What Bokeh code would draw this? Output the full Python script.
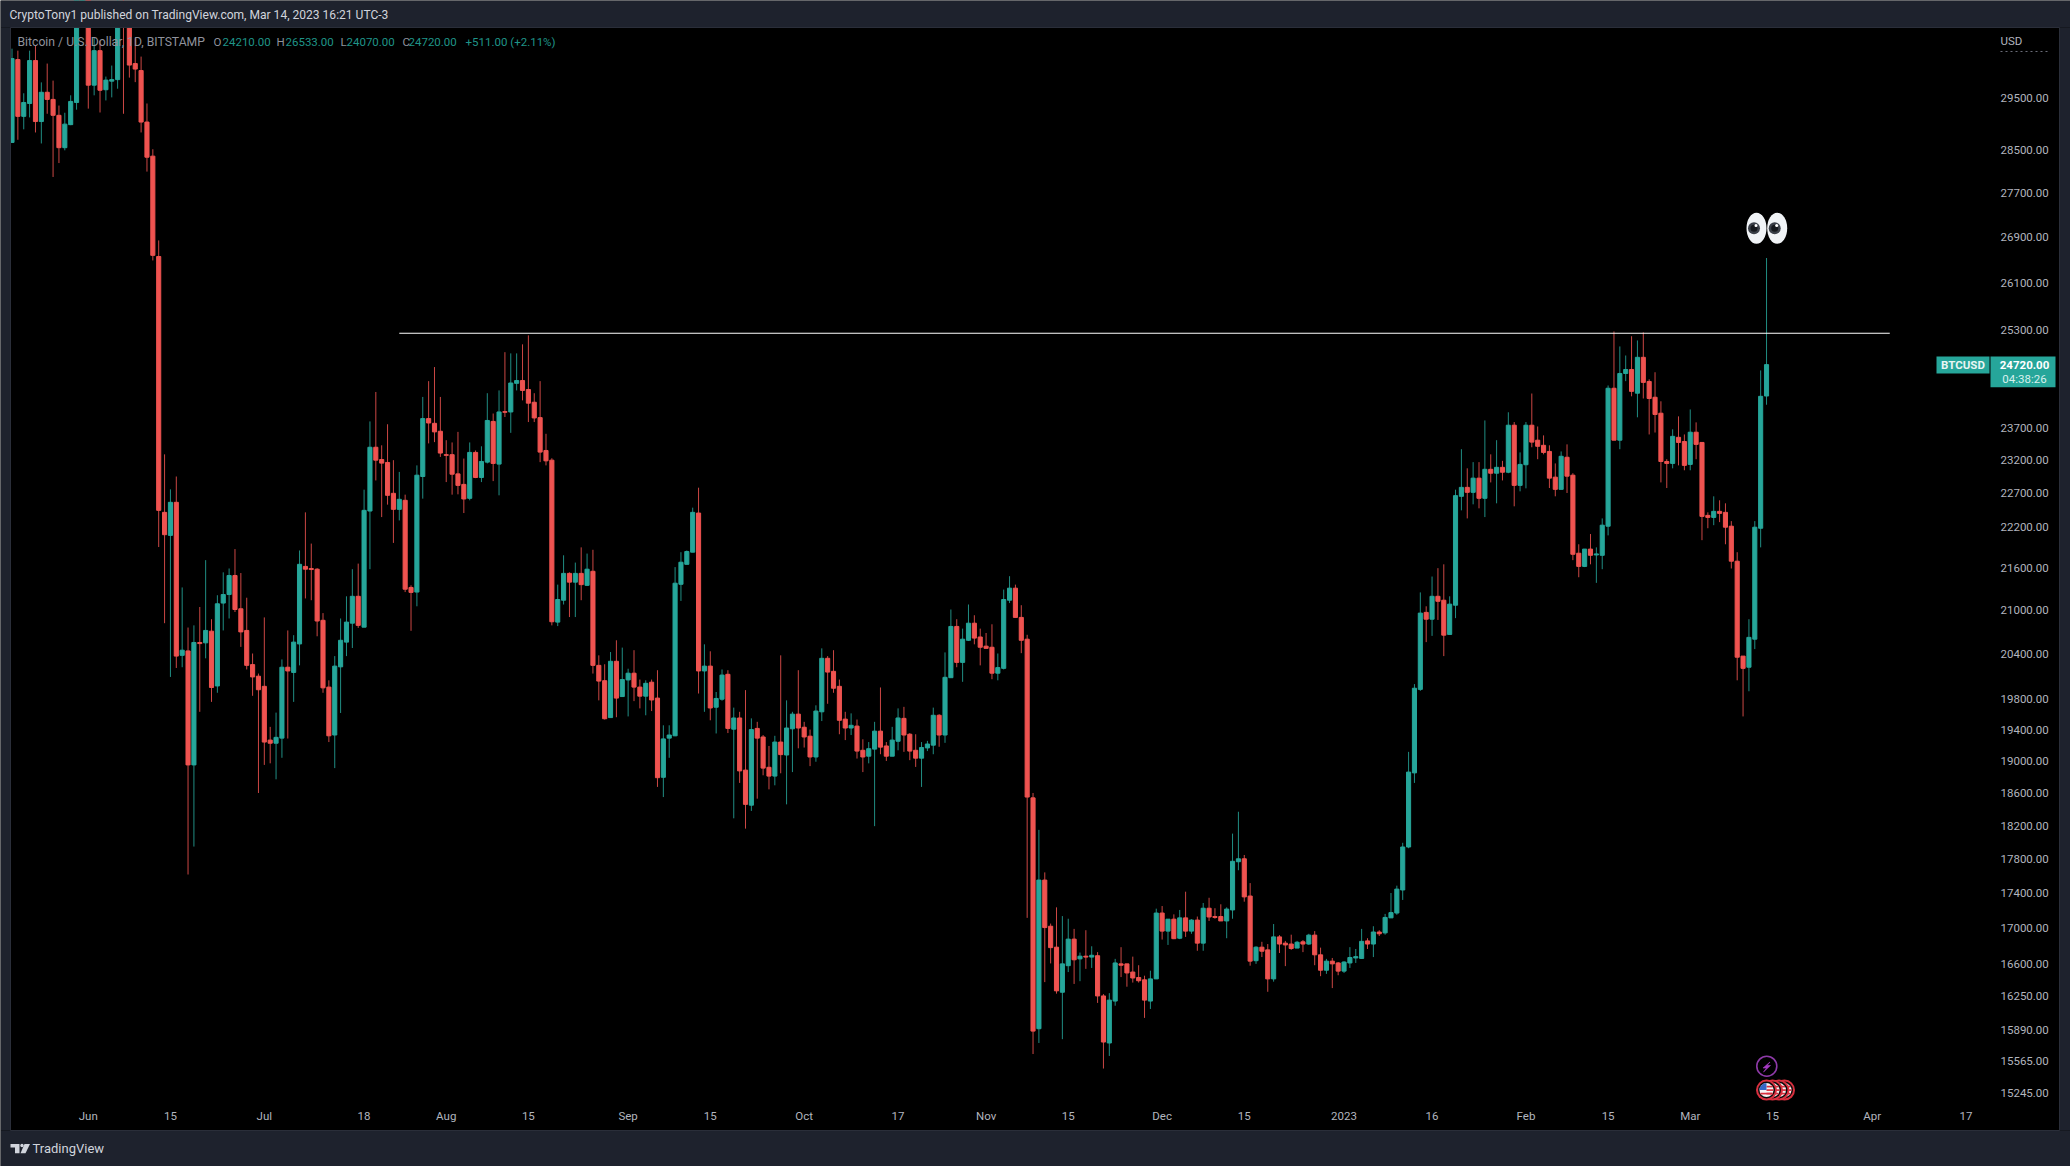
import math
import pandas as pd
from bokeh.embed import file_html
from bokeh.resources import INLINE
from bokeh.plotting import figure
from bokeh.models import Range1d, FixedTicker, NumeralTickFormatter, ColumnDataSource
from bokeh.core.properties import value

START_DATE = "2022-05-19"
opens = [
28650,30270,29150,29400,30250,29050,29620,29480,29170,28550,
28990,29420,31700,31790,29760,30450,29670,29840,29870,31370,
31130,30190,30050,29040,28390,26560,22410,22070,22560,20380,
20440,18950,20555,20550,20710,19970,21100,21220,21490,21020,
20720,20255,20100,19965,19265,19225,19290,20220,20150,20535,
21620,21590,21580,20860,19955,19330,20225,20560,20820,21195,
20765,22430,23400,23210,23165,22695,22455,22590,21320,21255,
22950,23850,23775,23650,23285,23285,22990,22830,22620,23320,
22935,23170,23805,23140,23960,23955,24415,24460,24315,24110,
23865,23350,23200,20835,21140,21520,21395,21520,21350,21550,
20245,20040,19555,20300,19830,20050,20140,19955,19835,20020,
19810,18795,19290,19320,21365,21650,21825,22400,20170,20235,
19690,19795,20125,19405,19550,18885,18450,19415,19305,18920,
18810,19240,19075,19410,19600,19430,19315,19050,19630,20340,
20165,19965,19535,19420,19445,19135,19060,19150,19380,19190,
19060,19250,19545,19340,19135,19035,19165,19200,19585,19330,
20080,20775,20285,20585,20820,20630,20505,20490,20140,20205,
21140,21310,20900,20600,18540,15905,17555,17025,16790,16295,
16585,16880,16660,16690,16680,16695,16255,15755,16200,16605,
16605,16515,16455,16430,16200,16440,17175,16970,17105,16890,
17120,16970,17095,16835,17230,17135,17135,17085,17210,17770,
17805,17370,16640,16790,16760,16440,16905,16835,16825,16780,
16850,16825,16925,16705,16535,16635,16615,16525,16615,16670,
16665,16860,16825,16960,16950,17120,17175,17440,17945,18850,
19925,20970,20875,21195,21140,20665,21070,22650,22785,22710,
22925,22620,23060,23000,23090,23015,23745,22815,23130,23745,
23510,23430,23335,22940,22755,23245,22970,21810,21620,21870,
21785,21780,22205,24335,23510,24575,24640,24255,24840,24445,
24190,23935,23180,23150,23555,23490,23135,23635,23475,22365,
22335,22425,22410,22205,21695,20370,20220,20600,22175,24210]
closes = [
30290,29150,29420,30250,29050,29620,29480,29170,28550,29000,
29440,31700,31790,29760,30450,29660,29860,29870,31370,31130,
30160,30080,29040,28370,26580,22440,22080,22560,20370,20450,
18950,20555,20540,20720,19950,21090,21220,21490,21010,20700,
20245,20090,19920,19240,19225,19300,20220,20170,20560,21650,
21580,21575,20850,19945,19320,20235,20585,20835,21195,20790,
22440,23400,23200,23155,22665,22455,22605,21295,21250,22970,
23850,23780,23640,23310,23275,22985,22815,22610,23320,22935,
23180,23820,23150,23955,23950,24420,24460,24300,24095,23860,
23325,23190,20840,21150,21520,21395,21520,21360,21580,20245,
20035,19540,20300,19810,20055,20140,19955,19835,20005,19785,
18790,19280,19330,21380,21680,21835,22410,20170,20235,19680,
19805,20115,19415,19550,18875,18460,19400,19290,18910,18810,
19240,19080,19420,19600,19420,19305,19050,19640,20340,20155,
19940,19520,19420,19455,19125,19050,19155,19380,19175,19060,
19265,19550,19330,19125,19035,19170,19215,19585,19330,20085,
20775,20285,20600,20820,20615,20490,20475,20140,20215,21150,
21310,20900,20585,18550,15880,17555,17010,16785,16310,16605,
16880,16650,16690,16680,16700,16255,15765,16210,16615,16590,
16505,16450,16420,16210,16440,17175,16970,17105,16885,17120,
16970,17095,16835,17230,17130,17125,17085,17220,17775,17805,
17360,16635,16790,16745,16440,16905,16825,16815,16775,16845,
16825,16925,16705,16535,16635,16605,16525,16625,16675,16685,
16855,16825,16960,16940,17125,17180,17450,17945,18860,19940,
20960,20875,21195,21125,20655,21085,22660,22785,22710,22925,
22620,23060,23000,23090,23015,23745,22815,23135,23745,23480,
23415,23320,22925,22755,23260,22955,21795,21620,21870,21780,
21800,22220,24335,23510,24575,24640,24285,24840,24430,24170,
23915,23180,23150,23570,23475,23120,23635,23445,22350,22335,
22425,22395,22190,21695,20355,20205,20625,22190,24205,24720]
highs = [
30490,30450,29600,30450,30560,29815,30190,29850,29360,29220,
29560,31900,32380,31900,30710,30650,29930,30150,31600,31560,
31300,30700,30330,29400,28520,26845,23290,22755,22950,21320,
20760,20790,21045,21710,20875,21210,21535,21590,21870,21525,
21175,20405,20135,20900,19435,19620,20325,20720,20655,21850,
22410,21950,21595,20960,20045,20370,20885,21195,21580,21660,
22750,23805,24275,23430,23760,23200,23020,22675,21350,23120,
24195,24450,24680,24195,23510,23475,23640,23225,23475,23350,
23415,24255,23930,24300,24925,24905,24905,25055,25205,24255,
24450,23610,23230,21360,21780,21535,21675,21895,21805,21860,
20380,20260,20425,20585,20485,20200,20450,20055,20045,20055,
20180,19455,19455,21610,21825,21850,22480,22780,20530,20435,
19890,20190,20180,19685,19630,19915,19545,19500,19330,19190,
19320,20380,19780,19630,20180,19500,19400,19715,20475,20370,
20450,20055,19630,19610,19530,19275,19240,19500,19950,19240,
19435,19675,19695,19355,19340,19240,19255,19685,19600,20420,
21010,20875,20745,21080,20930,20745,20685,20805,20405,21290,
21480,21360,21070,20660,18600,18150,17645,17055,17240,17140,
17110,16995,16730,16980,16800,16735,16275,16285,16660,16790,
16605,16685,16590,16475,16530,17225,17255,17105,17160,17210,
17420,17105,17135,17290,17350,17230,17275,17240,18105,18370,
17850,17520,16800,16850,16825,17050,16925,16860,16930,16860,
16870,16940,16970,16785,16660,16670,16625,16635,16790,16770,
16995,16890,17025,16980,17165,17405,17490,17995,19115,19995,
21250,21055,21475,21595,21650,21195,22750,23370,23075,23170,
23170,23820,23290,23510,23190,23950,23795,23320,23795,24250,
23725,23585,23430,23150,23335,23445,23000,21940,21870,22090,
21895,22320,24380,25270,25020,24870,25190,25120,25255,24480,
24595,24125,23215,23680,23885,23600,23995,23790,23475,22410,
22650,22590,22545,22280,21825,20370,20875,22280,24625,26533]
lows = [
28650,28700,28900,29130,28840,28630,29200,28000,28260,28500,
28980,29280,31200,29300,29560,29225,29460,29520,29690,29200,
29910,29820,28840,28100,26490,21900,20820,20090,20210,20220,
17620,17950,19630,20340,19760,19880,20720,20885,20975,20495,
20190,19840,18600,18950,18970,18770,19040,19285,19760,20245,
21165,21140,20640,19880,19240,18910,19615,20370,20480,20755,
20765,21580,22890,22340,22525,21960,22290,21255,20715,21055,
22615,23460,23480,23250,22865,22675,22680,22400,22590,22925,
22865,23150,22880,22665,23875,23625,24300,24140,23795,23795,
23170,23120,20790,20780,21080,20905,20905,21140,21340,20135,
19780,19530,19560,19560,19825,19570,19770,19675,19585,19640,
18675,18550,19040,19315,21130,21650,21825,19870,19630,19520,
19350,19775,19355,18290,18725,18165,18380,18530,18820,18645,
18695,18845,18460,18860,19160,19170,18935,18990,19510,19735,
19880,19340,19265,19330,19030,18860,18970,18195,19085,19000,
19060,19135,19115,19010,18925,18675,19125,19085,19180,19230,
20080,20220,20025,20575,20530,20245,20475,20060,20045,20190,
21100,20900,20410,17120,15640,15755,16405,16610,16280,15795,
16515,16385,16415,16550,16560,16180,15490,15620,16150,16460,
16355,16400,16400,16020,16115,16440,16875,16815,16880,16880,
16905,16940,16750,16750,17085,17110,17085,16890,17110,17670,
17305,16585,16605,16680,16300,16410,16725,16580,16760,16780,
16735,16815,16590,16470,16495,16340,16480,16505,16560,16615,
16660,16770,16680,16915,16930,17120,17155,17325,17930,18725,
19905,20560,20645,20865,20370,20665,20890,22440,22320,22530,
22470,22340,22860,22545,22890,23000,22500,22725,22770,23400,
23215,23290,22775,22650,22755,22700,21710,21465,21610,21650,
21385,21580,22070,23510,23370,24450,24205,23870,24170,23600,
23630,22860,22775,23075,23120,23045,23045,23215,22000,22175,
22220,22265,21940,21590,20045,19570,19900,20465,21895,24070]

price_ticks = [29500,28500,27700,26900,26100,25300,23700,23200,22700,22200,21600,21000,20400,19800,19400,
               19000,18600,18200,17800,17400,17000,16600,16250,15890,15565,15245]
date_ticks = ["2022-06-01","2022-06-15","2022-07-01","2022-07-18","2022-08-01","2022-08-15","2022-09-01","2022-09-15",
              "2022-10-01","2022-10-17","2022-11-01","2022-11-15","2022-12-01","2022-12-15","2023-01-01","2023-01-16",
              "2023-02-01","2023-02-15","2023-03-01","2023-03-15","2023-04-01","2023-04-17"]
date_labels = ["Jun","15","Jul","18","Aug","15","Sep","15","Oct","17","Nov","15","Dec","15","2023","16",
               "Feb","15","Mar","15","Apr","17"]
resistance_dates = ["2022-07-24","2023-04-04"]
resistance_price = [25240,25240]

BG = "#1e222d"; UP = "#26a69a"; DOWN = "#ef5350"; AX = "#b2b5be"

# The plotting frame fills the whole canvas; the dark chrome strips are painted over the candles.
W, H = 2070, 1166
FL, FR, FT, FB = 10, 2059, 27, 1130
SP, X0 = 5.868, 11.5
def X(px): return (px - X0) / SP
def Y(py): return 27700 * math.exp(-(py - 192.7) / 1506)

p = figure(width=W, height=H, output_backend="svg", toolbar_location=None,
           y_axis_type="log", y_axis_location="right",
           x_range=Range1d(X(0), X(W)), y_range=Range1d(Y(H), Y(0)),
           min_border_left=0, min_border_right=0, min_border_top=0, min_border_bottom=0,
           background_fill_color="#000000", border_fill_color=BG,
           outline_line_color=None, styles={"position":"absolute","left":"0px","top":"0px"})
p.grid.visible = False

start = pd.Timestamp(START_DATE)
idx = list(range(len(opens)))
cols = [UP if c >= o else DOWN for o, c in zip(opens, closes)]
src = ColumnDataSource(dict(x=idx, o=opens, h=highs, l=lows, c=closes,
                            top=[max(a, b) for a, b in zip(opens, closes)],
                            bot=[min(a, b) for a, b in zip(opens, closes)], col=cols))
p.segment("x", "h", "x", "l", source=src, line_color="col", line_width=1, line_alpha=0.85)
p.vbar("x", 0.7, "bot", "top", source=src, fill_color="col", line_color="col", line_width=1)

# chrome strips painted over the candles
sl = [0, 0, 0, FR]; sr = [W, W, FL, W]; st = [0, FB, FT, FT]; sb = [FT, H, FB, FB]
p.quad(left=[X(v) for v in sl], right=[X(v) for v in sr], top=[Y(v) for v in st], bottom=[Y(v) for v in sb],
       fill_color=BG, line_color=None)
p.quad(left=[X(FL)], right=[X(FR)], top=[Y(FT)], bottom=[Y(FB)], fill_color=None, line_color="#2a2e39", line_width=1)

# axes: labels sit inside the black pane
xa = p.xaxis[0]
ticks = [(pd.Timestamp(d) - start).days for d in date_ticks]
xa.ticker = FixedTicker(ticks=ticks)
xa.major_label_overrides = dict(zip(ticks, date_labels))
xa.major_label_standoff = -64
ya = p.yaxis[0]
ya.ticker = FixedTicker(ticks=price_ticks)
ya.formatter = NumeralTickFormatter(format="0.00")
ya.major_label_standoff = -76
for a in (xa, ya):
    a.axis_line_color = None
    a.major_tick_line_color = None
    a.minor_tick_line_color = None
    a.major_label_text_color = AX
    a.major_label_text_font = "Roboto"
    a.major_label_text_font_size = "11.5px"

# resistance line
res_x = [(pd.Timestamp(d) - start).days for d in resistance_dates]
p.line(res_x, resistance_price, line_color="#ffffff", line_width=1.1)

def txt(px, py, s, color, size="11.5px", style="normal", align="left"):
    p.text([X(px)], [Y(py)], text=[s], text_color=color, text_font=value("Roboto"), text_font_size=size,
           text_font_style=style, text_baseline="middle", text_align=align)

# legend line
txt(17, 41, "Bitcoin / U.S. Dollar, 1D, BITSTAMP", "#8f929c", "12.2px")
for px, s in [(213, "O"), (276, "H"), (340, "L"), (402, "C")]:
    txt(px, 41, s, "#8f929c")
for px, s in [(222, "24210.00"), (285, "26533.00"), (346, "24070.00"), (408, "24720.00"), (465, "+511.00 (+2.11%)")]:
    txt(px, 41, s, "#1f9488")

# USD + dotted rule
txt(2000, 40, "USD", AX)
p.segment([X(2000)], [Y(51)], [X(2048)], [Y(51)], line_color="#6a6d78", line_width=1, line_dash="2 3")

# price tags
p.quad(left=[X(1936), X(1990)], right=[X(1989), X(2055)], top=[Y(356), Y(356)], bottom=[Y(373), Y(386.7)],
       fill_color=UP, line_color=None)
txt(1962.5, 364, "BTCUSD", "#e8f5f3", "11.5px", "bold", "center")
txt(2024, 364, "24720.00", "#ffffff", "11.5px", "bold", "center")
txt(2024, 378, "04:38:26", "#d8f0ed", "11.5px", "normal", "center")

# eyes
for cx, px_off in [(1756, -2.5), (1776.7, -2.5)]:
    p.ellipse([X(cx)], [Y(227.7)], width=20, height=31, width_units="screen", height_units="screen",
              fill_color="#f0f3f6", line_color=None)
    p.scatter([X(cx + px_off)], [Y(227.7)], size=12, fill_color="#3a3f48", line_color=None)
    p.scatter([X(cx + px_off)], [Y(227.7)], size=7, fill_color="#15181d", line_color=None)
    p.scatter([X(cx + px_off + 2)], [Y(225)], size=3, fill_color="#ffffff", line_color=None)

# lightning icon
p.scatter([X(1766.3)], [Y(1065.7)], size=20, fill_color=None, line_color="#8e3aa8", line_width=1.6)
bolt = [(1769.5,1061.5),(1762.5,1067.5),(1766,1067.5),(1763,1071.5),(1770,1065),(1766.5,1065)]
p.patch([X(a) for a, b in bolt], [Y(b) for a, b in bolt], fill_color="#a63ac4", line_color="#a63ac4", line_width=0.6)

# flag icons
for cx in [1784, 1778.5, 1772, 1766]:
    p.scatter([X(cx)], [Y(1089.6)], size=21, fill_color="#d9303f", line_color=None)
    p.scatter([X(cx)], [Y(1089.6)], size=17, fill_color="#0b0b0b", line_color=None)
    p.scatter([X(cx)], [Y(1089.6)], size=14, fill_color="#f4f4f4", line_color=None)
    for dy in (-3.5, 0, 3.5):
        h = math.sqrt(49 - dy * dy)
        p.segment([X(cx)], [Y(1089.6 + dy)], [X(cx + h)], [Y(1089.6 + dy)], line_color="#d9303f", line_width=1.7)
    if cx == 1766:
        h = math.sqrt(49 - 12.25)
        p.segment([X(cx - h)], [Y(1093.1)], [X(cx + h)], [Y(1093.1)], line_color="#d9303f", line_width=1.7)
        p.wedge([X(cx)], [Y(1089.6)], radius=7, radius_units="screen", start_angle=math.pi/2, end_angle=math.pi,
                fill_color="#3467c9", line_color=None)

# header, footer, logo
txt(9, 14, "CryptoTony1 published on TradingView.com, Mar 14, 2023 16:21 UTC-3", "#d1d4dc", "12.05px")
txt(32, 1148, "TradingView", "#d1d4dc", "13px")
logo = [[(10,1143.5),(19,1143.5),(19,1152.7),(14.5,1152.7),(14.5,1147),(10,1147)],
        [(29.5,1143.5),(24,1143.5),(20,1152.7),(25,1152.7)]]
for pts in logo:
    p.patch([X(a) for a, b in pts], [Y(b) for a, b in pts], fill_color="#d1d4dc", line_color=None)
p.scatter([X(21.5)], [Y(1145)], size=3.4, fill_color="#d1d4dc", line_color=None)

open("out.html", "w").write(file_html(p, INLINE))
